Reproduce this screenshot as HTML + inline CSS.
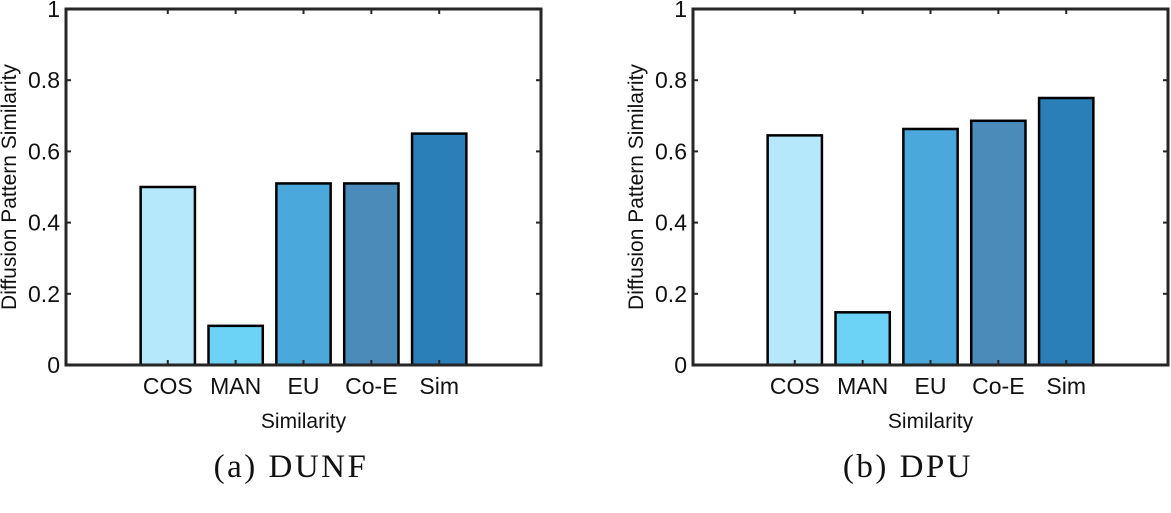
<!DOCTYPE html>
<html><head><meta charset="utf-8"><style>
body{margin:0;background:#fff;width:1171px;height:508px;overflow:hidden}
svg text{font-family:"Liberation Sans",sans-serif;fill:#111}
</style></head><body>
<svg id="c" width="1171" height="508"></svg>
<script>
const categories=["COS","MAN","EU","Co-E","Sim"];
const dunfValues=[0.50,0.11,0.51,0.51,0.65];
const dpuValues=[0.645,0.148,0.663,0.686,0.75];
const yTicks=[0,0.2,0.4,0.6,0.8,1];
const yTickLabels=["0","0.2","0.4","0.6","0.8","1"];
const colors=["#b5e8fa","#6cd3f7","#4aa8db","#4a8bba","#2a7fb8"];
const svg=document.getElementById('c');
const NS="http://www.w3.org/2000/svg";
function mk(t,a,p){const e=document.createElementNS(NS,t);for(const k in a)e.setAttribute(k,a[k]);(p||svg).appendChild(e);return e;}
function panel(id,x0,x1,vals,caption,capX){
  const y0=365,y1=9;
  const g=mk('g',{});
  
  
  const xs=v=>x0+(v+0.5)/7*(x1-x0);
  const ys=v=>y0-v*(y0-y1);
  const bw=0.8/7*(x1-x0);
  vals.forEach((v,i)=>{
    const r=mk('rect',{x:xs(i+1)-bw/2,y:ys(v),width:bw,height:ys(0)-ys(v),fill:colors[i],stroke:'#000','stroke-width':2.5},g);
    
    
    const t=mk('text',{x:xs(i+1),y:394,'font-size':23,'text-anchor':'middle'},g);
    t.textContent=categories[i];
    
    
    mk('line',{x1:xs(i+1),x2:xs(i+1),y1:y0,y2:y0-5,stroke:'#262626','stroke-width':2},g);
    mk('line',{x1:xs(i+1),x2:xs(i+1),y1:y1,y2:y1+5,stroke:'#262626','stroke-width':2},g);
  });
  yTicks.forEach((v,i)=>{
    mk('line',{x1:x0,x2:x0+5,y1:ys(v),y2:ys(v),stroke:'#262626','stroke-width':2},g);
    mk('line',{x1:x1,x2:x1-5,y1:ys(v),y2:ys(v),stroke:'#262626','stroke-width':2},g);
    const t=mk('text',{x:x0-6,y:ys(v)+8,'font-size':23,'text-anchor':'end'},g);
    t.textContent=yTickLabels[i];
    
    
  });
  const ax=mk('rect',{x:x0,y:y1,width:x1-x0,height:y0-y1,fill:'none',stroke:'#262626','stroke-width':3},g);
  
  
  const xl=mk('text',{x:(x0+x1)/2,y:428,'font-size':21,'text-anchor':'middle'},g);
  xl.textContent='Similarity';
  
  
  const yl=mk('text',{x:0,y:0,'font-size':21,'text-anchor':'middle',transform:`translate(${x0-50},${(y0+y1)/2}) rotate(-90)`},g);
  yl.textContent='Diffusion Pattern Similarity';
  
  
  const cp=mk('text',{x:capX,y:477,'font-size':33,'text-anchor':'middle',style:'font-family:"Liberation Serif",serif;letter-spacing:2.5px'},g);
  cp.textContent=caption;
  
  
}
panel('dunf',66,541,dunfValues,'(a)  DUNF',291);
panel('dpu',693,1168,dpuValues,'(b)  DPU',908);
</script>
</body></html>
